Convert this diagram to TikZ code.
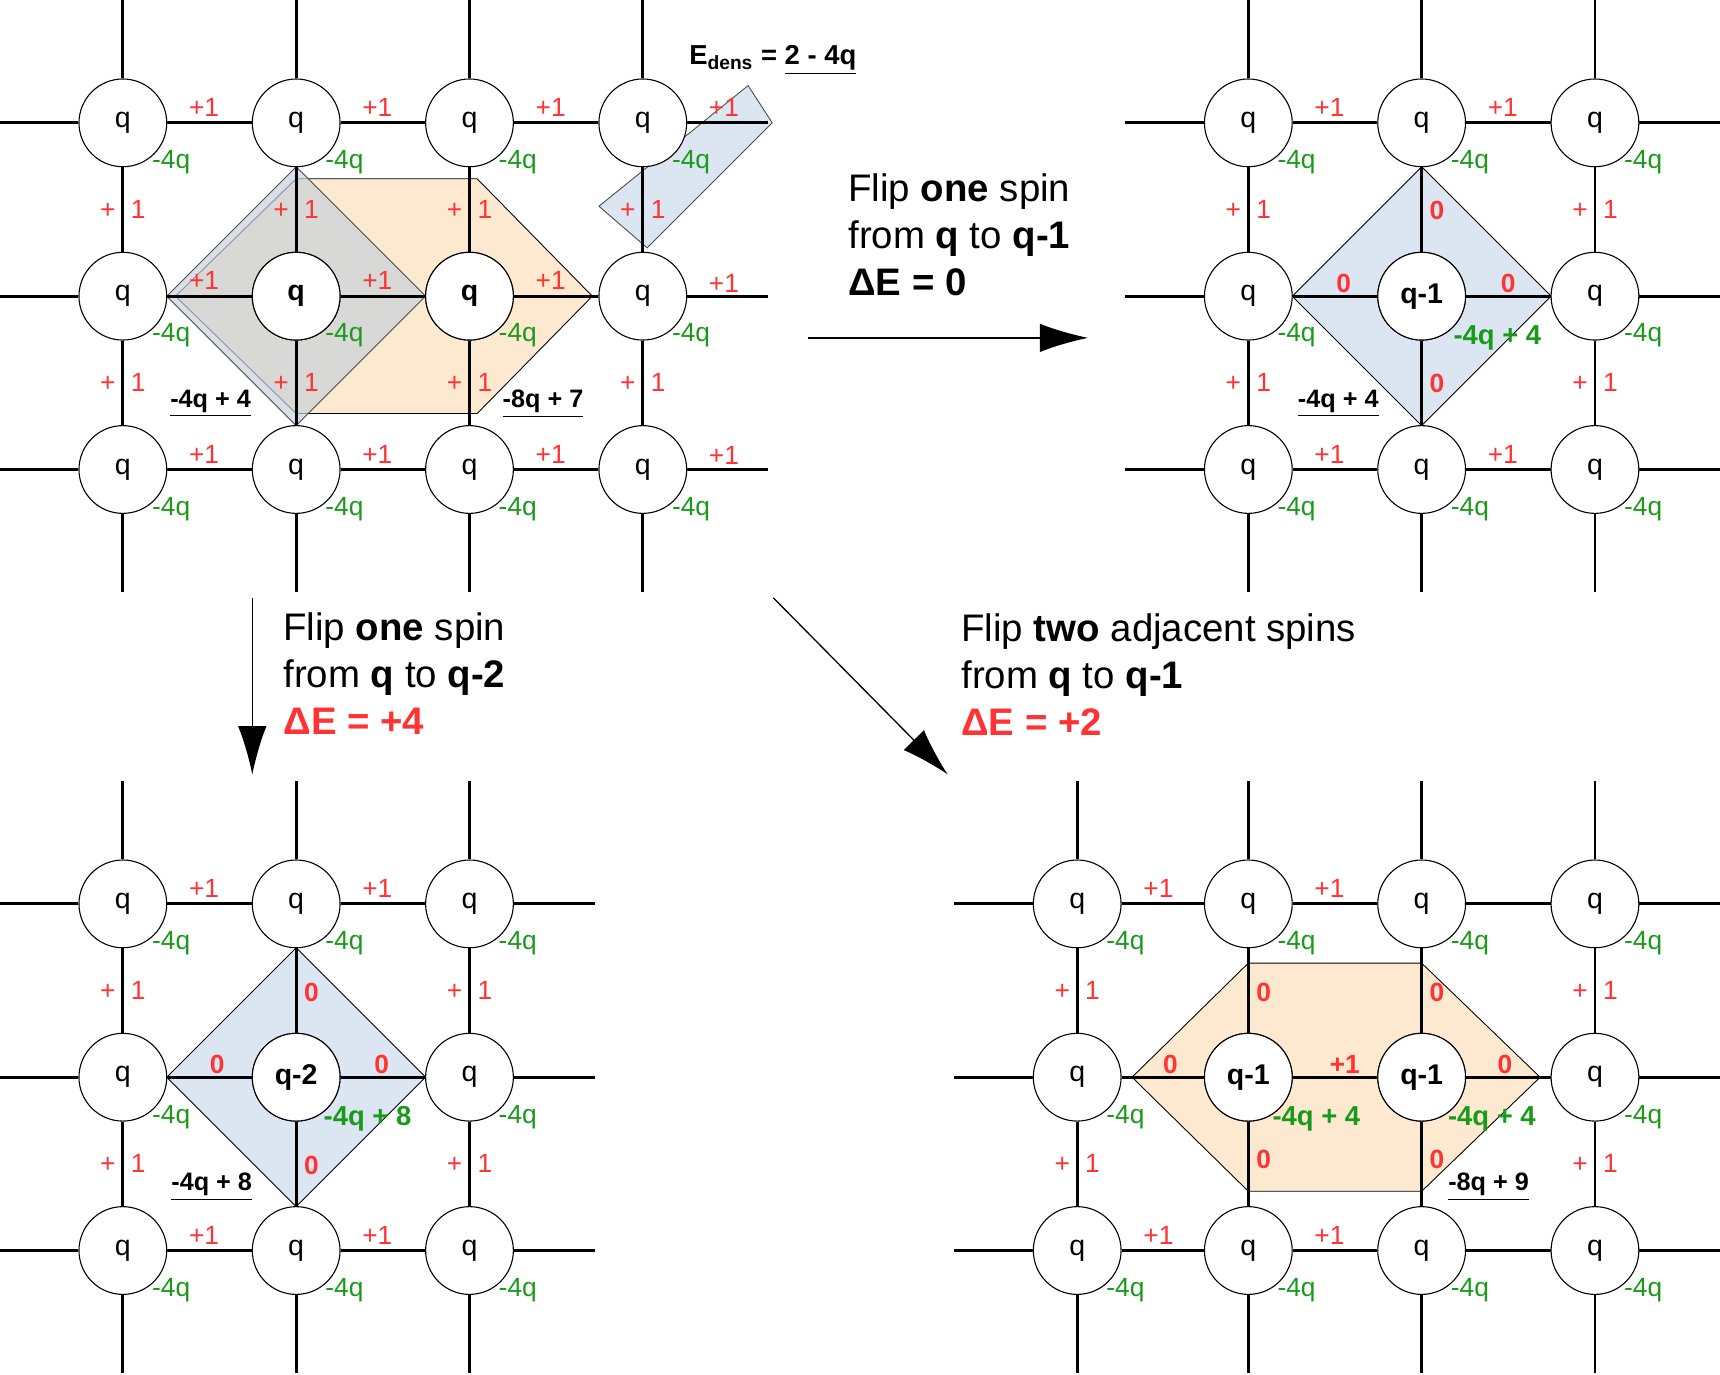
\documentclass[tikz,border=0pt]{standalone}
\usepackage{fontspec}
\setmainfont{Liberation Sans}
\usetikzlibrary{calc,arrows.meta}
\definecolor{rd}{HTML}{FF3333}
\definecolor{gn}{HTML}{1A9A1A}
\definecolor{bl}{HTML}{DCE6F2}
\definecolor{og}{HTML}{FDE9D0}
\newcommand\skipit[1]{\expandafter\gdef\csname sk#1\endcsname{}}
\newcommand\spingrid[5]{%
 \foreach \x [count=\i] in {#2}{\foreach \y [count=\j] in {#3}{%
   \node[site] (#1-\i-\j) at (\x,\y) {q};
   \ifcsname sk#1-G-\i-\j\endcsname\else\node[gl] at ($(#1-\i-\j)+(44,36)$) {-4q};\fi}}
 \foreach \i in {1,...,#5}{\foreach \j in {1,2,3}{%
   \pgfmathtruncatemacro\ni{\i+1}
   \draw[bond] (#1-\i-\j) -- (#1-\ni-\j);
   \ifcsname sk#1-H-\i-\j\endcsname\else\node[rl] at ($(#1-\i-\j)+(74,-14)$) {+1};\fi}}
 \foreach \i in {1,...,#4}{\foreach \j in {1,2}{%
   \pgfmathtruncatemacro\nj{\j+1}
   \draw[bond] (#1-\i-\j) -- (#1-\i-\nj);
   \ifcsname sk#1-V-\i-\j\endcsname\else\node[rl] at ($(#1-\i-\j)+(0,79)$) {+\hspace{7pt}1};\fi}}
 \foreach \j in {1,2,3}{%
   \coordinate (#1-L\j) at ($(#1-1-\j)+(-112,0)$);
   \coordinate (#1-R\j) at ($(#1-#4-\j)+(114,0)$);
   \draw[bond] (#1-L\j) -- (#1-1-\j); \draw[bond] (#1-#4-\j) -- (#1-R\j);}
 \foreach \i in {1,...,#4}{%
   \coordinate (#1-T\i) at ($(#1-\i-1)+(0,-112)$);
   \coordinate (#1-B\i) at ($(#1-\i-3)+(0,112)$);
   \draw[bond] (#1-T\i) -- (#1-\i-1); \draw[bond] (#1-\i-3) -- (#1-B\i);}
}
\begin{document}
\begin{tikzpicture}[x=0.5pt,y=-0.5pt,
 site/.style={circle,draw,line width=0.5pt,fill=white,minimum size=40pt,inner sep=0pt,font=\fontsize{13}{13}\selectfont},
 bond/.style={line width=1.3pt},
 rl/.style={text=rd,font=\fontsize{12}{12}\selectfont,inner sep=0pt},
 gl/.style={text=gn,font=\fontsize{12}{12}\selectfont,inner sep=0pt},
 zr/.style={text=rd,font=\fontsize{12}{12}\selectfont\bfseries,inner sep=0pt},
 gb/.style={text=gn,font=\fontsize{12.5}{12.5}\selectfont\bfseries,inner sep=0pt},
 ul/.style={font=\fontsize{11.5}{11.5}\selectfont\bfseries,inner sep=0pt},
 txt/.style={align=left,anchor=north west,inner sep=0pt,font=\fontsize{17.5}{21.5}\selectfont},
 arr/.style={line width=0.6pt,-{Latex[length=22pt,width=13pt]}}]
\useasboundingbox (0,0) rectangle (1568,1253);
% shapes
\filldraw[fill=og,draw=black,line width=0.4pt] (270,163) -- (435,163) -- (540,270) -- (435,377) -- (270,377) -- (160,270) -- cycle;
\filldraw[fill=bl!80!gray,fill opacity=0.7,draw=black!70,line width=0.4pt] (270,152) -- (388,270) -- (270,388) -- (152,270) -- cycle;
\filldraw[fill=bl,draw=black!70,line width=0.4pt] (682,78) -- (704,112) -- (590,226) -- (546,188) -- cycle;
\filldraw[fill=bl,draw=black,line width=0.4pt] (1296,152) -- (1414,270) -- (1296,388) -- (1178,270) -- cycle;
\filldraw[fill=bl,draw=black,line width=0.4pt] (270,864) -- (388,982) -- (270,1100) -- (152,982) -- cycle;
\filldraw[fill=og,draw=black,line width=0.4pt] (1138,878) -- (1296,878) -- (1404,982) -- (1296,1086) -- (1138,1086) -- (1032,982) -- cycle;
% skips
\skipit{B-H-1-2}\skipit{B-H-2-2}\skipit{B-V-2-1}\skipit{B-V-2-2}\skipit{B-G-2-2}
\skipit{C-H-1-2}\skipit{C-H-2-2}\skipit{C-V-2-1}\skipit{C-V-2-2}\skipit{C-G-2-2}
\skipit{D-H-1-2}\skipit{D-H-2-2}\skipit{D-H-3-2}\skipit{D-V-2-1}\skipit{D-V-2-2}\skipit{D-V-3-1}\skipit{D-V-3-2}\skipit{D-G-2-2}\skipit{D-G-3-2}
\skipit{D-H-3-1}\skipit{D-H-3-3}
% grids
\spingrid{A}{112,270,428,586}{112,270,428}{4}{3}
\spingrid{B}{1138,1296,1454}{112,270,428}{3}{2}
\spingrid{C}{112,270,428}{824,982,1140}{3}{2}
\spingrid{D}{982,1138,1296,1454}{824,982,1140}{4}{3}
% special nodes
\node[site,font=\fontsize{13}{13}\selectfont\bfseries] (A-2-2) at (270,270) {q};
\node[site,font=\fontsize{13}{13}\selectfont\bfseries] (A-3-2) at (428,270) {q};
\node[site,font=\fontsize{13}{13}\selectfont\bfseries] (B-2-2) at (1296,270) {q-1};
\node[site,font=\fontsize{13}{13}\selectfont\bfseries] (C-2-2) at (270,982) {q-2};
\node[site,font=\fontsize{13}{13}\selectfont\bfseries] (D-2-2) at (1138,982) {q-1};
\node[site,font=\fontsize{13}{13}\selectfont\bfseries] (D-3-2) at (1296,982) {q-1};
% top-left extras
\foreach \j/\y in {1/98,2/258,3/415} \node[rl] at (660,\y) {+1};
\node[anchor=west,inner sep=0pt,font=\fontsize{12.5}{12.5}\selectfont\bfseries] (ed) at (628,55) {E\textsubscript{dens} = \underline{2 - 4q}};
\node[ul] at (192,368) {\underline{-4q + 4}};
\node[ul] at (495,368) {\underline{-8q + 7}};
% top-right extras
\node[zr] at (1310,192) {0}; \node[zr] at (1225,258) {0};
\node[zr] at (1375,258) {0}; \node[zr] at (1310,350) {0};
\node[gb] at (1365,308) {-4q + 4};
\node[ul] at (1220,368) {\underline{-4q + 4}};
% bottom-left extras
\node[zr] at (284,905) {0}; \node[zr] at (198,970) {0};
\node[zr] at (348,970) {0}; \node[zr] at (284,1062) {0};
\node[gb] at (335,1020) {-4q + 8};
\node[ul] at (193,1082) {\underline{-4q + 8}};
% bottom-right extras
\node[zr] at (1152,905) {0}; \node[zr] at (1310,905) {0};
\node[zr] at (1067,970) {0}; \node[zr] at (1372,970) {0};
\node[zr] at (1152,1057) {0}; \node[zr] at (1310,1057) {0};
\node[zr] at (1226,970) {+1};
\node[gb] at (1200,1020) {-4q + 4};
\node[gb] at (1360,1020) {-4q + 4};
\node[ul] at (1357,1082) {\underline{-8q + 9}};
% arrows and texts
\coordinate (a1s) at (737,308); \coordinate (a1e) at (992,308);
\coordinate (a2s) at (230,545); \coordinate (a2e) at (230,706);
\coordinate (a3s) at (705,545); \coordinate (a3e) at (864,706);
\draw[arr] (a1s) -- (a1e);
\draw[arr] (a2s) -- (a2e);
\draw[arr] (a3s) -- (a3e);
\node[txt] (t1) at (773,158) {Flip \textbf{one} spin\\from \textbf{q} to \textbf{q-1}\\\textbf{ΔE = 0}};
\node[txt] (t2) at (258,558) {Flip \textbf{one} spin\\from \textbf{q} to \textbf{q-2}\\\textcolor{rd}{\textbf{ΔE = +4}}};
\node[txt] (t3) at (876,559) {Flip \textbf{two} adjacent spins\\from \textbf{q} to \textbf{q-1}\\\textcolor{rd}{\textbf{ΔE = +2}}};
\end{tikzpicture}
\end{document}
